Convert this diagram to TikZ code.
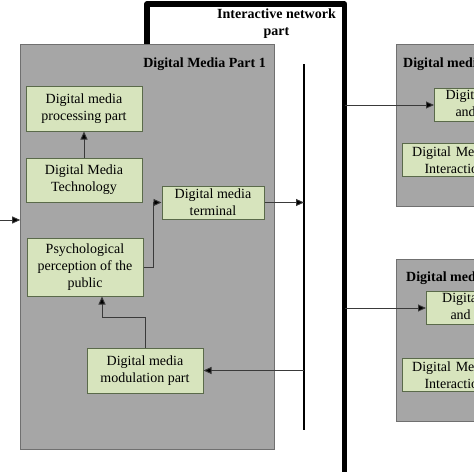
\documentclass[tikz,border=0pt]{standalone}
\usepackage{fontspec}
\setmainfont{Liberation Serif}
\usetikzlibrary{arrows.meta,calc}
\definecolor{grayfill}{HTML}{A6A6A6}
\definecolor{graybd}{HTML}{707070}
\definecolor{greenfill}{HTML}{D7E4BD}
\definecolor{greenbd}{HTML}{5A6A4A}
\definecolor{linecol}{HTML}{3A3A3A}
\begin{document}
\begin{tikzpicture}[x=1pt,y=-1pt,
  graybox/.style={draw=graybd,fill=grayfill,line width=1pt,inner sep=0pt},
  gbox/.style={draw=greenbd,fill=greenfill,line width=1pt,inner sep=0pt,align=center,font=\fontsize{14}{17}\selectfont},
  rbox/.style={gbox,anchor=north west,text width=100pt,align=left,minimum height=33pt},
  titletext/.style={font=\fontsize{14}{17}\selectfont\bfseries,inner sep=0pt},
  conn/.style={draw=linecol,line width=0.9pt,-{Triangle[length=8pt,width=7pt,fill=black]}},
  busline/.style={line width=5.5pt,line join=round,draw=black},
  thinbus/.style={line width=1.2pt,draw=black}
]
\useasboundingbox (0,0) rectangle (474,474);
\clip (0,0) rectangle (474,474);
\fill[white] (0,0) rectangle (474,474);

% part 1
\node[graybox,minimum width=253.3pt,minimum height=405pt] (part1) at (147.35,246.5) {};
\node[titletext,anchor=east] (t1) at (266,64) {Digital Media Part 1};
\node[gbox,minimum width=116pt,minimum height=45pt] (proc) at (84,108.5) {Digital media\\processing part};
\node[gbox,minimum width=116pt,minimum height=44pt] (tech) at (84,180) {Digital Media\\Technology};
\node[gbox,minimum width=102pt,minimum height=33pt] (term) at (213,202.5) {Digital media\\terminal};
\node[gbox,minimum width=116pt,minimum height=58pt] (psych) at (85,267) {Psychological\\perception of the\\public};
\node[gbox,minimum width=116pt,minimum height=45pt] (mod) at (145,370.5) {Digital media\\modulation part};

% bus
\coordinate (bus0) at (147,44);
\coordinate (bus1) at (147,4);
\coordinate (bus2) at (344.5,4);
\coordinate (bus3) at (344.5,472);
\draw[busline] (bus0) -- (bus1) -- (bus2) -- (bus3);
\node[titletext,align=center] (bustitle) at (276.5,23.5) {Interactive network\\part};

\coordinate (vt) at (304,64);
\coordinate (vb) at (304,430);
\draw[thinbus] (vt) -- (vb);

% input
\coordinate (inL) at (0,220);
\draw[conn] (inL) -- (inL -| part1.west);

% connectors in part 1
\draw[conn] (tech.north) -- (proc.south);
\draw[conn] (psych.east) -- ++(10,0) |- (term.west);
\draw[conn] (mod.north) -- ++(0,-30) -| ([xshift=17pt]psych.south);
\draw[conn] (term.east) -- (term.east -| vt);
\draw[conn] (mod.east -| vt) -- (mod.east);

% part 2
\node[graybox,anchor=north west,minimum width=120pt,minimum height=162pt] (part2) at (396,44) {};
\node[titletext,anchor=west] (t2) at (403,64) {Digital media part 2};
\node[rbox] (p2a) at (434,88) {\hspace*{11pt}Digital media\\\hspace*{21pt}and display};
\node[rbox] (p2b) at (402,143) {\hspace*{9.7pt}Digital Media\\\hspace*{22pt}Interaction};
\draw[conn] (p2a.west -| bus2) -- (p2a.west);

% part 3
\node[graybox,anchor=north west,minimum width=120pt,minimum height=162pt] (part3) at (396,259) {};
\node[titletext,anchor=west] (t3) at (406,278) {Digital media part 3};
\node[rbox] (p3a) at (426,291) {\hspace*{15.7pt}Digital media\\\hspace*{24pt}and display};
\node[rbox] (p3b) at (402,358) {\hspace*{9.7pt}Digital Media\\\hspace*{22pt}Interaction};
\draw[conn] (p3a.west -| bus2) -- (p3a.west);
\end{tikzpicture}
\end{document}
